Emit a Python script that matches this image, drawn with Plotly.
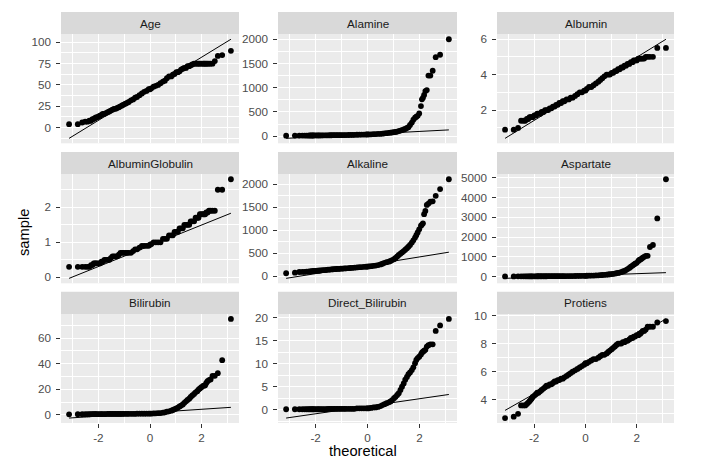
import plotly.graph_objects as go
from statistics import NormalDist

# ---------------- data ----------------
N_OBS = 583
RANKS = [1, 2, 3, 4, 5, 6, 7, 8, 9, 10, 11, 12, 14, 16, 18, 20, 23, 26, 30, 34, 38,
         43, 48, 54, 60, 67, 74, 82, 90, 100, 110, 120, 135, 150, 165, 180, 200, 220,
         240, 260, 280, 292, 304, 324, 344, 364, 384, 404, 419, 434, 449, 464, 474,
         484, 494, 502, 510, 517, 524, 530, 536, 541, 546, 550, 554, 558, 561, 564,
         566, 568, 570, 572, 573, 574, 575, 576, 577, 578, 579, 580, 581, 582, 583]

PANELS = ["Age", "Alamine", "Albumin", "AlbuminGlobulin", "Alkaline",
          "Aspartate", "Bilirubin", "Direct_Bilirubin", "Protiens"]

age = [4, 4, 6, 7, 7, 8, 8, 10, 10, 11, 12, 12, 13, 14, 15, 16, 16, 17, 18, 19, 20,
       21, 22, 22, 23, 24, 25, 26, 27, 28, 29, 30, 32, 33, 35, 36, 38, 40, 42, 43, 45,
       45,
       46, 48, 49, 50, 52, 54, 55, 58, 60, 60, 62, 63, 65, 65, 66, 68, 69, 70, 70, 72,
       72, 73, 74, 75, 75, 75, 75, 75, 75, 75, 75, 75, 75, 75, 75, 75, 75, 78, 84, 85, 90]

alamine = [10, 11, 11, 12, 12, 12, 12, 13, 13, 13, 13, 14, 14, 14, 15, 15, 15, 16, 16,
           17, 17, 18, 18, 19, 19, 20, 20, 21, 21, 22, 22, 23, 24, 25, 26, 27, 29, 30,
           32, 33, 34,
           35,
           36, 38, 40, 42, 45, 48, 52, 58, 62, 68, 72, 76, 82, 88, 95, 105, 115, 125,
           138, 150, 168, 185, 230, 280, 340, 380, 400, 420, 470, 620, 760, 790, 850,
           930, 950, 1250, 1250, 1350, 1630, 1680, 2000]

albumin = [0.9, 0.9, 1.0, 1.4, 1.4, 1.4, 1.5, 1.5, 1.6, 1.6, 1.6, 1.6, 1.7, 1.7, 1.8,
           1.8, 1.8, 1.9, 1.9, 2.0, 2.0, 2.0, 2.1, 2.1, 2.2, 2.2, 2.3, 2.3, 2.4, 2.4,
           2.5, 2.5, 2.6, 2.6, 2.7, 2.7, 2.8, 2.9, 3.0, 3.0, 3.1,
           3.1,
           3.2, 3.3, 3.3, 3.4, 3.5, 3.6, 3.7, 3.8, 3.9, 4.0, 4.0, 4.0, 4.1, 4.1, 4.2,
           4.2, 4.3, 4.3, 4.4, 4.4, 4.5, 4.5, 4.6, 4.6, 4.7, 4.7, 4.8, 4.8, 4.8, 4.9,
           4.9, 4.9, 4.9, 4.9, 4.9, 5.0, 5.0, 5.0, 5.0, 5.5, 5.5]

albumin_globulin = [0.3, 0.3, 0.3, 0.3, 0.3, 0.3, 0.35, 0.35, 0.4, 0.4, 0.4, 0.4, 0.4,
                    0.4, 0.45, 0.45, 0.5, 0.5, 0.5, 0.5, 0.55, 0.6, 0.6, 0.6, 0.6, 0.65,
                    0.7, 0.7, 0.7, 0.7, 0.7, 0.7, 0.7, 0.75, 0.8, 0.8, 0.85, 0.9, 0.9,
                    0.9, 0.9,
                    0.93,
                    0.95, 1.0, 1.0, 1.0, 1.0, 1.1, 1.1, 1.1, 1.2, 1.2, 1.2, 1.3, 1.3,
                    1.3, 1.4, 1.4, 1.4, 1.5, 1.5, 1.5, 1.5, 1.6, 1.6, 1.6, 1.7, 1.7,
                    1.7, 1.8, 1.8, 1.8, 1.8, 1.8, 1.85, 1.85, 1.9, 1.9, 1.9, 1.9, 2.5,
                    2.5, 2.8]

alkaline = [63, 75, 90, 92, 95, 98, 100, 102, 105, 108, 110, 112, 115, 118, 120, 123,
            126, 130, 133, 137, 140, 143, 146, 150, 152, 155, 158, 160, 162, 165, 168,
            170, 174, 177, 181, 185, 190, 195, 198, 202, 205,
            208,
            212, 218, 224, 230, 240, 255, 270, 290, 305, 315, 330, 350, 370, 395, 430,
            460, 490, 515, 545, 575, 610, 640, 680, 730, 780, 840, 890, 950, 1020,
            1100, 1124, 1150, 1350, 1420, 1550, 1580, 1620, 1630, 1750, 1896, 2110]

aspartate = [10, 11, 12, 12, 13, 13, 14, 14, 14, 15, 15, 15, 16, 16, 17, 17, 17, 18,
             18, 19, 19, 20, 20, 20, 21, 21, 22, 22, 23, 23, 24, 24, 25, 26, 27, 29,
             31, 33, 35, 37, 40,
             42,
             43, 46, 50, 54, 58, 65, 72, 82, 90, 100, 110, 118, 130, 142, 155, 170,
             185, 205, 230, 260, 290, 330, 380, 440, 500, 560, 610, 650, 700, 790,
             840, 870, 900, 960, 1000, 1050, 1050, 1500, 1600, 2946, 4929]

bilirubin = [0.4, 0.5, 0.5, 0.5, 0.5, 0.5, 0.6, 0.6, 0.6, 0.6, 0.6, 0.6, 0.6, 0.6, 0.6,
             0.6, 0.6, 0.6, 0.7, 0.7, 0.7, 0.7, 0.7, 0.7, 0.7, 0.7, 0.7, 0.7, 0.8, 0.8,
             0.8, 0.8, 0.8, 0.8, 0.8, 0.9, 0.9, 0.9, 0.9, 0.9, 1.0,
             1.0,
             1.0, 1.1, 1.2, 1.3, 1.4, 1.7, 2.0, 2.5, 2.8, 3.3, 3.8, 4.4, 5.0, 5.7, 6.6,
             7.3, 8.2, 9.4, 10.6, 11.7, 12.7, 14.0, 15.2, 16.4, 17.6, 18.5, 19.8, 20.6,
             21.6, 22.7, 22.8, 23.2, 25.0, 26.3, 27.2, 27.7, 30.5, 30.5, 32.6, 42.8, 75.0]

direct_bilirubin = [0.1, 0.1, 0.1, 0.1, 0.1, 0.1, 0.1, 0.1, 0.1, 0.1, 0.1, 0.1, 0.1,
                    0.1, 0.1, 0.1, 0.1, 0.1, 0.1, 0.1, 0.2, 0.2, 0.2, 0.2, 0.2, 0.2,
                    0.2, 0.2, 0.2, 0.2, 0.2, 0.2, 0.2, 0.2, 0.2, 0.2, 0.3, 0.3, 0.3,
                    0.3, 0.3,
                    0.3,
                    0.3, 0.4, 0.5, 0.5, 0.6, 0.8, 1.0, 1.2, 1.4, 1.6, 1.8, 2.1, 2.5,
                    2.8, 3.2, 3.6, 4.3, 5.0, 5.7, 6.5, 7.1, 7.7, 8.1, 8.6, 9.2, 10.1,
                    10.8, 11.2, 11.5, 12.0, 12.4, 12.6, 12.8, 13.0, 13.7, 14.0, 14.2,
                    14.2, 17.1, 18.3, 19.7]

protiens = [2.7, 2.8, 3.0, 3.6, 3.6, 3.6, 3.7, 3.8, 3.9, 4.0, 4.1, 4.2, 4.3, 4.4, 4.5,
            4.5, 4.6, 4.7, 4.8, 4.9, 5.0, 5.0, 5.1, 5.1, 5.2, 5.3, 5.3, 5.4, 5.4, 5.5,
            5.5, 5.6, 5.7, 5.8, 5.9, 6.0, 6.1, 6.2, 6.3, 6.4, 6.5,
            6.6,
            6.6, 6.7, 6.8, 6.9, 6.9, 7.0, 7.1, 7.2, 7.2, 7.3, 7.4, 7.5, 7.6, 7.7, 7.8,
            7.9, 8.0, 8.0, 8.0, 8.1, 8.1, 8.2, 8.2, 8.3, 8.4, 8.4, 8.5, 8.5, 8.6, 8.6,
            8.7, 8.7, 8.8, 8.9, 8.9, 9.0, 9.2, 9.2, 9.2, 9.5, 9.6]

# first / third quartiles of each sample (define the qq reference line)
QUARTILE_1 = [33, 23, 2.6, 0.7, 175.5, 25, 0.8, 0.2, 5.8]
QUARTILE_3 = [58, 60.5, 3.8, 1.1, 298, 87, 2.6, 1.3, 7.2]

X_TICKS = [-2, 0, 2]
X_TICK_TEXT = ["-2", "0", "2"]

# ---------------- figure ----------------
samples = [age, alamine, albumin, albumin_globulin, alkaline,
           aspartate, bilirubin, direct_bilirubin, protiens]

nd = NormalDist()
theoretical = [nd.inv_cdf((r - 0.5) / N_OBS) for r in RANKS]
z25, z75 = nd.inv_cdf(0.25), nd.inv_cdf(0.75)

W, H = 709, 466
COLS = [(61, 239), (278, 457), (497, 674)]
ROWS = [(34.3, 143.3), (174.3, 283.3), (314.0, 423.0)]
STRIP_H = 22.3
Y_STEP = [25, 500, 2, 1, 500, 1000, 20, 5, 2]

FONT = "Liberation Sans, Arial, sans-serif"
TICKFONT = dict(family=FONT, size=11.7, color="#4D4D4D")

fig = go.Figure()
layout = {}
shapes = []
annotations = []

xmin, xmax = min(theoretical), max(theoretical)
xpad = 0.05 * (xmax - xmin)

for i, name in enumerate(PANELS):
    r, c = divmod(i, 3)
    suf = "" if i == 0 else str(i + 1)
    ys = samples[i]
    slope = (QUARTILE_3[i] - QUARTILE_1[i]) / (z75 - z25)
    icpt = QUARTILE_1[i] - slope * z25
    lx = [xmin, xmax]
    ly = [icpt + slope * v for v in lx]

    fig.add_trace(go.Scatter(x=theoretical, y=ys, mode="markers",
                             marker=dict(color="black", size=5.8, line=dict(width=0)),
                             xaxis="x" + suf, yaxis="y" + suf, cliponaxis=False,
                             showlegend=False, hoverinfo="skip"))
    fig.add_trace(go.Scatter(x=lx, y=ly, mode="lines",
                             line=dict(color="black", width=1),
                             xaxis="x" + suf, yaxis="y" + suf,
                             showlegend=False, hoverinfo="skip"))

    lo = min(min(ys), min(ly))
    hi = max(max(ys), max(ly))
    pad = 0.05 * (hi - lo)

    x0, x1 = COLS[c]
    yt, yb = ROWS[r]
    bottom = (r == 2)
    layout["xaxis" + suf] = dict(
        domain=[x0 / W, x1 / W], anchor="y" + suf, automargin=False,
        range=[xmin - xpad, xmax + xpad],
        tickmode="array", tickvals=X_TICKS, ticktext=X_TICK_TEXT,
        showticklabels=bottom, ticks="outside" if bottom else "",
        ticklen=3.7, tickwidth=1.1, tickcolor="#333333",
        tickfont=TICKFONT,
        showgrid=True, gridcolor="white", gridwidth=1.1,
        minor=dict(tickmode="array", tickvals=[-3, -1, 1, 3], showgrid=True,
                   gridcolor="white", gridwidth=0.55, ticks=""),
        zeroline=False, showline=False, fixedrange=True)
    step = Y_STEP[i]
    layout["yaxis" + suf] = dict(
        domain=[1 - yb / H, 1 - yt / H], anchor="x" + suf, automargin=False,
        range=[lo - pad, hi + pad],
        tickmode="linear", tick0=0, dtick=step,
        ticks="outside", ticklen=3.7, tickwidth=1.1, tickcolor="#333333",
        tickfont=TICKFONT, ticklabelstandoff=3,
        showgrid=True, gridcolor="white", gridwidth=1.1,
        minor=dict(tickmode="linear", tick0=step / 2, dtick=step, showgrid=True,
                   gridcolor="white", gridwidth=0.55, ticks=""),
        zeroline=False, showline=False, fixedrange=True)

    shapes.append(dict(type="rect", xref="paper", yref="paper",
                       x0=x0 / W, x1=x1 / W,
                       y0=1 - yt / H, y1=1 - (yt - STRIP_H) / H,
                       fillcolor="#D9D9D9", line=dict(width=0), layer="below"))
    annotations.append(dict(text=name, xref="paper", yref="paper",
                            x=(x0 + x1) / 2 / W, y=1 - (yt - STRIP_H / 2) / H,
                            xanchor="center", yanchor="middle", showarrow=False,
                            font=dict(family=FONT, size=11.7, color="#1A1A1A")))

annotations.append(dict(text="sample", xref="paper", yref="paper",
                        x=24 / W, y=1 - 233 / H, textangle=-90,
                        xanchor="center", yanchor="middle", showarrow=False,
                        font=dict(family=FONT, size=14.7, color="black")))
annotations.append(dict(text="theoretical", xref="paper", yref="paper",
                        x=363 / W, y=1 - 451 / H,
                        xanchor="center", yanchor="middle", showarrow=False,
                        font=dict(family=FONT, size=14.7, color="black")))

fig.update_layout(width=W, height=H, margin=dict(l=0, r=0, t=0, b=0, autoexpand=False),
                  paper_bgcolor="white", plot_bgcolor="#EBEBEB",
                  shapes=shapes, annotations=annotations,
                  font=dict(family=FONT), **layout)

fig.write_html("out.html", config={"displayModeBar": False},
               post_script="document.body.style.margin='0';document.body.style.padding='0';")
